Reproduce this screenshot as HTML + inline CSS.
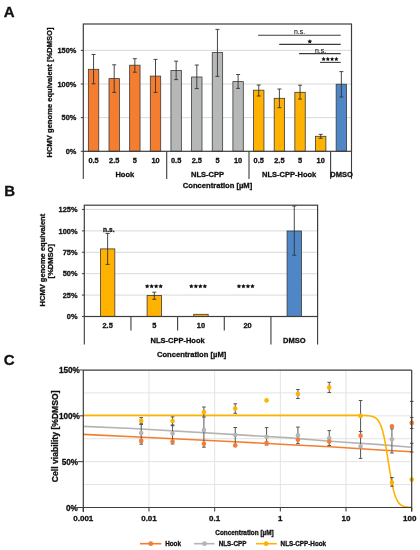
<!DOCTYPE html>
<html><head><meta charset="utf-8"><style>
html,body{margin:0;padding:0;background:#fff;}
svg{display:block;}
text{font-family:"Liberation Sans",sans-serif;font-weight:bold;stroke:#111111;stroke-width:0.3px;}
svg{will-change:transform;}
</style></head><body>
<svg width="420" height="550" viewBox="0 0 420 550">
<rect width="420" height="550" fill="#fff"/>
<text x="3.8" y="16.6" font-size="15" text-anchor="start" fill="#111111" >A</text>
<text x="4.2" y="196.2" font-size="15" text-anchor="start" fill="#111111" >B</text>
<text x="3.7" y="365.1" font-size="15" fill="#111111">C</text>
<line x1="83.3" y1="117.65" x2="351.5" y2="117.65" stroke="#d9d9d9" stroke-width="1"/>
<line x1="83.3" y1="84.0" x2="351.5" y2="84.0" stroke="#d9d9d9" stroke-width="1"/>
<line x1="83.3" y1="50.35000000000001" x2="351.5" y2="50.35000000000001" stroke="#d9d9d9" stroke-width="1"/>
<rect x="88.35" y="69.3" width="10.4" height="82.00" fill="#f47d30" stroke="#3a3a3a" stroke-width="0.8"/>
<rect x="109.00" y="78.6" width="10.4" height="72.70" fill="#f47d30" stroke="#3a3a3a" stroke-width="0.8"/>
<rect x="129.65" y="65.2" width="10.4" height="86.10" fill="#f47d30" stroke="#3a3a3a" stroke-width="0.8"/>
<rect x="150.30" y="76.1" width="10.4" height="75.20" fill="#f47d30" stroke="#3a3a3a" stroke-width="0.8"/>
<rect x="170.95" y="70.4" width="10.4" height="80.90" fill="#b6b8b7" stroke="#3a3a3a" stroke-width="0.8"/>
<rect x="191.60" y="77" width="10.4" height="74.30" fill="#b6b8b7" stroke="#3a3a3a" stroke-width="0.8"/>
<rect x="212.25" y="52.6" width="10.4" height="98.70" fill="#b6b8b7" stroke="#3a3a3a" stroke-width="0.8"/>
<rect x="232.90" y="81.6" width="10.4" height="69.70" fill="#b6b8b7" stroke="#3a3a3a" stroke-width="0.8"/>
<rect x="253.55" y="90.2" width="10.4" height="61.10" fill="#ffb300" stroke="#3a3a3a" stroke-width="0.8"/>
<rect x="274.20" y="98.3" width="10.4" height="53.00" fill="#ffb300" stroke="#3a3a3a" stroke-width="0.8"/>
<rect x="294.85" y="92.3" width="10.4" height="59.00" fill="#ffb300" stroke="#3a3a3a" stroke-width="0.8"/>
<rect x="315.50" y="136.3" width="10.4" height="15.00" fill="#ffb300" stroke="#3a3a3a" stroke-width="0.8"/>
<rect x="336.15" y="84.2" width="10.4" height="67.10" fill="#4f87c6" stroke="#3a3a3a" stroke-width="0.8"/>
<line x1="93.55" y1="54.5" x2="93.55" y2="83.8" stroke="#333333" stroke-width="0.9"/>
<line x1="91.55" y1="54.5" x2="95.55" y2="54.5" stroke="#333333" stroke-width="0.9"/>
<line x1="91.55" y1="83.8" x2="95.55" y2="83.8" stroke="#333333" stroke-width="0.9"/>
<line x1="114.19999999999999" y1="64.8" x2="114.19999999999999" y2="92.4" stroke="#333333" stroke-width="0.9"/>
<line x1="112.19999999999999" y1="64.8" x2="116.19999999999999" y2="64.8" stroke="#333333" stroke-width="0.9"/>
<line x1="112.19999999999999" y1="92.4" x2="116.19999999999999" y2="92.4" stroke="#333333" stroke-width="0.9"/>
<line x1="134.85" y1="58.7" x2="134.85" y2="72.2" stroke="#333333" stroke-width="0.9"/>
<line x1="132.85" y1="58.7" x2="136.85" y2="58.7" stroke="#333333" stroke-width="0.9"/>
<line x1="132.85" y1="72.2" x2="136.85" y2="72.2" stroke="#333333" stroke-width="0.9"/>
<line x1="155.5" y1="59.4" x2="155.5" y2="92.4" stroke="#333333" stroke-width="0.9"/>
<line x1="153.5" y1="59.4" x2="157.5" y2="59.4" stroke="#333333" stroke-width="0.9"/>
<line x1="153.5" y1="92.4" x2="157.5" y2="92.4" stroke="#333333" stroke-width="0.9"/>
<line x1="176.14999999999998" y1="61.2" x2="176.14999999999998" y2="79.6" stroke="#333333" stroke-width="0.9"/>
<line x1="174.14999999999998" y1="61.2" x2="178.14999999999998" y2="61.2" stroke="#333333" stroke-width="0.9"/>
<line x1="174.14999999999998" y1="79.6" x2="178.14999999999998" y2="79.6" stroke="#333333" stroke-width="0.9"/>
<line x1="196.8" y1="65" x2="196.8" y2="88.6" stroke="#333333" stroke-width="0.9"/>
<line x1="194.8" y1="65" x2="198.8" y2="65" stroke="#333333" stroke-width="0.9"/>
<line x1="194.8" y1="88.6" x2="198.8" y2="88.6" stroke="#333333" stroke-width="0.9"/>
<line x1="217.45" y1="29.4" x2="217.45" y2="76.4" stroke="#333333" stroke-width="0.9"/>
<line x1="215.45" y1="29.4" x2="219.45" y2="29.4" stroke="#333333" stroke-width="0.9"/>
<line x1="215.45" y1="76.4" x2="219.45" y2="76.4" stroke="#333333" stroke-width="0.9"/>
<line x1="238.09999999999997" y1="74.5" x2="238.09999999999997" y2="88.4" stroke="#333333" stroke-width="0.9"/>
<line x1="236.09999999999997" y1="74.5" x2="240.09999999999997" y2="74.5" stroke="#333333" stroke-width="0.9"/>
<line x1="236.09999999999997" y1="88.4" x2="240.09999999999997" y2="88.4" stroke="#333333" stroke-width="0.9"/>
<line x1="258.75" y1="85" x2="258.75" y2="96" stroke="#333333" stroke-width="0.9"/>
<line x1="256.75" y1="85" x2="260.75" y2="85" stroke="#333333" stroke-width="0.9"/>
<line x1="256.75" y1="96" x2="260.75" y2="96" stroke="#333333" stroke-width="0.9"/>
<line x1="279.4" y1="89" x2="279.4" y2="107.7" stroke="#333333" stroke-width="0.9"/>
<line x1="277.4" y1="89" x2="281.4" y2="89" stroke="#333333" stroke-width="0.9"/>
<line x1="277.4" y1="107.7" x2="281.4" y2="107.7" stroke="#333333" stroke-width="0.9"/>
<line x1="300.05" y1="85.2" x2="300.05" y2="99.1" stroke="#333333" stroke-width="0.9"/>
<line x1="298.05" y1="85.2" x2="302.05" y2="85.2" stroke="#333333" stroke-width="0.9"/>
<line x1="298.05" y1="99.1" x2="302.05" y2="99.1" stroke="#333333" stroke-width="0.9"/>
<line x1="320.7" y1="134.3" x2="320.7" y2="138.3" stroke="#333333" stroke-width="0.9"/>
<line x1="318.7" y1="134.3" x2="322.7" y2="134.3" stroke="#333333" stroke-width="0.9"/>
<line x1="318.7" y1="138.3" x2="322.7" y2="138.3" stroke="#333333" stroke-width="0.9"/>
<line x1="341.34999999999997" y1="71.6" x2="341.34999999999997" y2="97" stroke="#333333" stroke-width="0.9"/>
<line x1="339.34999999999997" y1="71.6" x2="343.34999999999997" y2="71.6" stroke="#333333" stroke-width="0.9"/>
<line x1="339.34999999999997" y1="97" x2="343.34999999999997" y2="97" stroke="#333333" stroke-width="0.9"/>
<rect x="83.3" y="24.0" width="268.2" height="127.30000000000001" fill="none" stroke="#3c3c3c" stroke-width="1.2"/>
<line x1="80.8" y1="151.3" x2="83.3" y2="151.3" stroke="#3c3c3c" stroke-width="1"/>
<line x1="80.8" y1="117.65" x2="83.3" y2="117.65" stroke="#3c3c3c" stroke-width="1"/>
<line x1="80.8" y1="84.0" x2="83.3" y2="84.0" stroke="#3c3c3c" stroke-width="1"/>
<line x1="80.8" y1="50.35000000000001" x2="83.3" y2="50.35000000000001" stroke="#3c3c3c" stroke-width="1"/>
<line x1="83.3" y1="151.3" x2="83.3" y2="178.9" stroke="#3c3c3c" stroke-width="1.1"/>
<line x1="166.7" y1="151.3" x2="166.7" y2="178.9" stroke="#3c3c3c" stroke-width="1.1"/>
<line x1="249.0" y1="151.3" x2="249.0" y2="178.9" stroke="#3c3c3c" stroke-width="1.1"/>
<line x1="330.6" y1="151.3" x2="330.6" y2="178.9" stroke="#3c3c3c" stroke-width="1.1"/>
<line x1="351.5" y1="151.3" x2="351.5" y2="178.9" stroke="#3c3c3c" stroke-width="1.1"/>
<text x="76.4" y="154.0" font-size="7.4" text-anchor="end" fill="#111111" >0%</text>
<text x="76.4" y="120.35000000000001" font-size="7.4" text-anchor="end" fill="#111111" >50%</text>
<text x="76.4" y="86.7" font-size="7.4" text-anchor="end" fill="#111111" >100%</text>
<text x="76.4" y="53.05000000000001" font-size="7.4" text-anchor="end" fill="#111111" >150%</text>
<text x="93.55" y="163.3" font-size="7.4" text-anchor="middle" fill="#111111" >0.5</text>
<text x="114.19999999999999" y="163.3" font-size="7.4" text-anchor="middle" fill="#111111" >2.5</text>
<text x="134.85" y="163.3" font-size="7.4" text-anchor="middle" fill="#111111" >5</text>
<text x="155.5" y="163.3" font-size="7.4" text-anchor="middle" fill="#111111" >10</text>
<text x="176.14999999999998" y="163.3" font-size="7.4" text-anchor="middle" fill="#111111" >0.5</text>
<text x="196.8" y="163.3" font-size="7.4" text-anchor="middle" fill="#111111" >2.5</text>
<text x="217.45" y="163.3" font-size="7.4" text-anchor="middle" fill="#111111" >5</text>
<text x="238.09999999999997" y="163.3" font-size="7.4" text-anchor="middle" fill="#111111" >10</text>
<text x="258.75" y="163.3" font-size="7.4" text-anchor="middle" fill="#111111" >0.5</text>
<text x="279.4" y="163.3" font-size="7.4" text-anchor="middle" fill="#111111" >2.5</text>
<text x="300.05" y="163.3" font-size="7.4" text-anchor="middle" fill="#111111" >5</text>
<text x="320.7" y="163.3" font-size="7.4" text-anchor="middle" fill="#111111" >10</text>
<text x="124.8" y="177.4" font-size="7.5" text-anchor="middle" fill="#111111" >Hook</text>
<text x="207.5" y="177.4" font-size="7.5" text-anchor="middle" fill="#111111" >NLS-CPP</text>
<text x="289.2" y="177.4" font-size="7.5" text-anchor="middle" fill="#111111" >NLS-CPP-Hook</text>
<text x="341.5" y="177.4" font-size="7.5" text-anchor="middle" fill="#111111" >DMSO</text>
<text x="217.5" y="188.0" font-size="7.6" text-anchor="middle" fill="#111111" >Concentration [µM]</text>
<text transform="translate(52.3,92.5) rotate(-90)" font-size="7.6" text-anchor="middle" fill="#111111">HCMV genome equivalent [%DMSO]</text>
<line x1="258.1" y1="35.3" x2="340.7" y2="35.3" stroke="#3c3c3c" stroke-width="1.1"/>
<text x="299.5" y="34.3" font-size="6.9" text-anchor="middle" fill="#111111" style="font-weight:normal;stroke-width:0.1px">n.s.</text>
<line x1="279.2" y1="44.4" x2="340.7" y2="44.4" stroke="#3c3c3c" stroke-width="1.1"/>
<line x1="299.1" y1="53.6" x2="340.7" y2="53.6" stroke="#3c3c3c" stroke-width="1.1"/>
<text x="320.5" y="52.7" font-size="6.9" text-anchor="middle" fill="#111111" style="font-weight:normal;stroke-width:0.1px">n.s.</text>
<line x1="320.0" y1="62.4" x2="340.7" y2="62.4" stroke="#3c3c3c" stroke-width="1.1"/>
<polygon points="309.80,39.15 310.52,40.61 312.13,40.84 310.97,41.98 311.24,43.58 309.80,42.83 308.36,43.58 308.63,41.98 307.47,40.84 309.08,40.61" fill="#111111"/>
<polygon points="323.60,56.85 324.26,58.19 325.74,58.40 324.67,59.45 324.92,60.92 323.60,60.23 322.28,60.92 322.53,59.45 321.46,58.40 322.94,58.19" fill="#111111"/>
<polygon points="327.85,56.85 328.51,58.19 329.99,58.40 328.92,59.45 329.17,60.92 327.85,60.23 326.53,60.92 326.78,59.45 325.71,58.40 327.19,58.19" fill="#111111"/>
<polygon points="332.10,56.85 332.76,58.19 334.24,58.40 333.17,59.45 333.42,60.92 332.10,60.23 330.78,60.92 331.03,59.45 329.96,58.40 331.44,58.19" fill="#111111"/>
<polygon points="336.35,56.85 337.01,58.19 338.49,58.40 337.42,59.45 337.67,60.92 336.35,60.23 335.03,60.92 335.28,59.45 334.21,58.40 335.69,58.19" fill="#111111"/>
<line x1="84.3" y1="295.09" x2="317.6" y2="295.09" stroke="#d9d9d9" stroke-width="1"/>
<line x1="84.3" y1="273.68" x2="317.6" y2="273.68" stroke="#d9d9d9" stroke-width="1"/>
<line x1="84.3" y1="252.26999999999998" x2="317.6" y2="252.26999999999998" stroke="#d9d9d9" stroke-width="1"/>
<line x1="84.3" y1="230.86" x2="317.6" y2="230.86" stroke="#d9d9d9" stroke-width="1"/>
<line x1="84.3" y1="209.45" x2="317.6" y2="209.45" stroke="#d9d9d9" stroke-width="1"/>
<rect x="100.43" y="248.9" width="14.4" height="67.60" fill="#ffb300" stroke="#3a3a3a" stroke-width="0.8"/>
<rect x="147.09" y="295.4" width="14.4" height="21.10" fill="#ffb300" stroke="#3a3a3a" stroke-width="0.8"/>
<rect x="193.75" y="314.3" width="14.4" height="2.20" fill="#ffb300" stroke="#3a3a3a" stroke-width="0.8"/>
<rect x="287.07" y="231.0" width="14.4" height="85.50" fill="#4f87c6" stroke="#3a3a3a" stroke-width="0.8"/>
<line x1="107.63" y1="233.5" x2="107.63" y2="264.4" stroke="#333333" stroke-width="0.9"/>
<line x1="105.63" y1="233.5" x2="109.63" y2="233.5" stroke="#333333" stroke-width="0.9"/>
<line x1="105.63" y1="264.4" x2="109.63" y2="264.4" stroke="#333333" stroke-width="0.9"/>
<line x1="154.29000000000002" y1="292.2" x2="154.29000000000002" y2="299.3" stroke="#333333" stroke-width="0.9"/>
<line x1="152.29000000000002" y1="292.2" x2="156.29000000000002" y2="292.2" stroke="#333333" stroke-width="0.9"/>
<line x1="152.29000000000002" y1="299.3" x2="156.29000000000002" y2="299.3" stroke="#333333" stroke-width="0.9"/>
<line x1="294.27000000000004" y1="206.0" x2="294.27000000000004" y2="255.2" stroke="#333333" stroke-width="0.9"/>
<line x1="292.27000000000004" y1="206.0" x2="296.27000000000004" y2="206.0" stroke="#333333" stroke-width="0.9"/>
<line x1="292.27000000000004" y1="255.2" x2="296.27000000000004" y2="255.2" stroke="#333333" stroke-width="0.9"/>
<rect x="84.3" y="205.2" width="233.3" height="111.30000000000001" fill="none" stroke="#3c3c3c" stroke-width="1.2"/>
<line x1="81.9" y1="316.5" x2="84.3" y2="316.5" stroke="#3c3c3c" stroke-width="1"/>
<text x="77.5" y="319.2" font-size="7.4" text-anchor="end" fill="#111111" >0%</text>
<line x1="81.9" y1="295.09" x2="84.3" y2="295.09" stroke="#3c3c3c" stroke-width="1"/>
<text x="77.5" y="297.78999999999996" font-size="7.4" text-anchor="end" fill="#111111" >25%</text>
<line x1="81.9" y1="273.68" x2="84.3" y2="273.68" stroke="#3c3c3c" stroke-width="1"/>
<text x="77.5" y="276.38" font-size="7.4" text-anchor="end" fill="#111111" >50%</text>
<line x1="81.9" y1="252.26999999999998" x2="84.3" y2="252.26999999999998" stroke="#3c3c3c" stroke-width="1"/>
<text x="77.5" y="254.96999999999997" font-size="7.4" text-anchor="end" fill="#111111" >75%</text>
<line x1="81.9" y1="230.86" x2="84.3" y2="230.86" stroke="#3c3c3c" stroke-width="1"/>
<text x="77.5" y="233.56" font-size="7.4" text-anchor="end" fill="#111111" >100%</text>
<line x1="81.9" y1="209.45" x2="84.3" y2="209.45" stroke="#3c3c3c" stroke-width="1"/>
<text x="77.5" y="212.14999999999998" font-size="7.4" text-anchor="end" fill="#111111" >125%</text>
<line x1="84.3" y1="316.5" x2="84.3" y2="344.4" stroke="#3c3c3c" stroke-width="1.1"/>
<line x1="130.96" y1="316.5" x2="130.96" y2="330.5" stroke="#3c3c3c" stroke-width="1.1"/>
<line x1="177.62" y1="316.5" x2="177.62" y2="330.5" stroke="#3c3c3c" stroke-width="1.1"/>
<line x1="224.28000000000003" y1="316.5" x2="224.28000000000003" y2="330.5" stroke="#3c3c3c" stroke-width="1.1"/>
<line x1="270.94" y1="316.5" x2="270.94" y2="344.4" stroke="#3c3c3c" stroke-width="1.1"/>
<line x1="317.6" y1="316.5" x2="317.6" y2="344.4" stroke="#3c3c3c" stroke-width="1.1"/>
<text x="107.63" y="327.9" font-size="7.4" text-anchor="middle" fill="#111111" >2.5</text>
<text x="154.29000000000002" y="327.9" font-size="7.4" text-anchor="middle" fill="#111111" >5</text>
<text x="200.95" y="327.9" font-size="7.4" text-anchor="middle" fill="#111111" >10</text>
<text x="247.61" y="327.9" font-size="7.4" text-anchor="middle" fill="#111111" >20</text>
<text x="177.6" y="342.9" font-size="7.5" text-anchor="middle" fill="#111111" >NLS-CPP-Hook</text>
<text x="294.3" y="342.9" font-size="7.5" text-anchor="middle" fill="#111111" >DMSO</text>
<text x="191.6" y="357.2" font-size="7.6" text-anchor="middle" fill="#111111" >Concentration [µM]</text>
<text x="108.8" y="231.6" font-size="6.6" text-anchor="middle" fill="#111111" >n.s.</text>
<polygon points="147.15,283.90 147.86,285.33 149.43,285.56 148.29,286.67 148.56,288.24 147.15,287.50 145.74,288.24 146.01,286.67 144.87,285.56 146.44,285.33" fill="#111111"/>
<polygon points="151.65,283.90 152.36,285.33 153.93,285.56 152.79,286.67 153.06,288.24 151.65,287.50 150.24,288.24 150.51,286.67 149.37,285.56 150.94,285.33" fill="#111111"/>
<polygon points="156.15,283.90 156.86,285.33 158.43,285.56 157.29,286.67 157.56,288.24 156.15,287.50 154.74,288.24 155.01,286.67 153.87,285.56 155.44,285.33" fill="#111111"/>
<polygon points="160.65,283.90 161.36,285.33 162.93,285.56 161.79,286.67 162.06,288.24 160.65,287.50 159.24,288.24 159.51,286.67 158.37,285.56 159.94,285.33" fill="#111111"/>
<polygon points="191.35,283.90 192.06,285.33 193.63,285.56 192.49,286.67 192.76,288.24 191.35,287.50 189.94,288.24 190.21,286.67 189.07,285.56 190.64,285.33" fill="#111111"/>
<polygon points="195.85,283.90 196.56,285.33 198.13,285.56 196.99,286.67 197.26,288.24 195.85,287.50 194.44,288.24 194.71,286.67 193.57,285.56 195.14,285.33" fill="#111111"/>
<polygon points="200.35,283.90 201.06,285.33 202.63,285.56 201.49,286.67 201.76,288.24 200.35,287.50 198.94,288.24 199.21,286.67 198.07,285.56 199.64,285.33" fill="#111111"/>
<polygon points="204.85,283.90 205.56,285.33 207.13,285.56 205.99,286.67 206.26,288.24 204.85,287.50 203.44,288.24 203.71,286.67 202.57,285.56 204.14,285.33" fill="#111111"/>
<polygon points="238.95,283.90 239.66,285.33 241.23,285.56 240.09,286.67 240.36,288.24 238.95,287.50 237.54,288.24 237.81,286.67 236.67,285.56 238.24,285.33" fill="#111111"/>
<polygon points="243.45,283.90 244.16,285.33 245.73,285.56 244.59,286.67 244.86,288.24 243.45,287.50 242.04,288.24 242.31,286.67 241.17,285.56 242.74,285.33" fill="#111111"/>
<polygon points="247.95,283.90 248.66,285.33 250.23,285.56 249.09,286.67 249.36,288.24 247.95,287.50 246.54,288.24 246.81,286.67 245.67,285.56 247.24,285.33" fill="#111111"/>
<polygon points="252.45,283.90 253.16,285.33 254.73,285.56 253.59,286.67 253.86,288.24 252.45,287.50 251.04,288.24 251.31,286.67 250.17,285.56 251.74,285.33" fill="#111111"/>
<text transform="translate(45.2,260.1) rotate(-90)" font-size="7.55" text-anchor="middle" fill="#111111">HCMV genome equivalent</text>
<text transform="translate(53.4,261.2) rotate(-90)" font-size="7.55" text-anchor="middle" fill="#111111">[%DMSO]</text>
<line x1="83.3" y1="484.5825" x2="411.7" y2="484.5825" stroke="#e3e3e3" stroke-width="1"/>
<line x1="83.3" y1="461.665" x2="411.7" y2="461.665" stroke="#e3e3e3" stroke-width="1"/>
<line x1="83.3" y1="438.7475" x2="411.7" y2="438.7475" stroke="#e3e3e3" stroke-width="1"/>
<line x1="83.3" y1="415.83" x2="411.7" y2="415.83" stroke="#e3e3e3" stroke-width="1"/>
<line x1="83.3" y1="392.9125" x2="411.7" y2="392.9125" stroke="#e3e3e3" stroke-width="1"/>
<line x1="148.98000000000002" y1="370.1" x2="148.98000000000002" y2="507.5" stroke="#e3e3e3" stroke-width="1"/>
<line x1="214.66000000000003" y1="370.1" x2="214.66000000000003" y2="507.5" stroke="#e3e3e3" stroke-width="1"/>
<line x1="280.34000000000003" y1="370.1" x2="280.34000000000003" y2="507.5" stroke="#e3e3e3" stroke-width="1"/>
<line x1="346.02000000000004" y1="370.1" x2="346.02000000000004" y2="507.5" stroke="#e3e3e3" stroke-width="1"/>
<polyline points="83.30,426.40 133.00,428.50 240.00,434.90 290.00,437.90 330.00,441.30 380.00,444.60 411.70,447.30" fill="none" stroke="#b4b4b4" stroke-width="1.6" stroke-linejoin="round"/>
<polyline points="83.30,434.40 133.00,436.80 240.00,442.00 290.00,444.80 330.00,446.80 380.00,450.00 411.70,451.80" fill="none" stroke="#f47d30" stroke-width="1.6" stroke-linejoin="round"/>
<polyline points="83.30,415.40 84.12,415.40 84.94,415.40 85.76,415.40 86.58,415.40 87.41,415.40 88.23,415.40 89.05,415.40 89.87,415.40 90.69,415.40 91.51,415.40 92.33,415.40 93.15,415.40 93.97,415.40 94.79,415.40 95.61,415.40 96.44,415.40 97.26,415.40 98.08,415.40 98.90,415.40 99.72,415.40 100.54,415.40 101.36,415.40 102.18,415.40 103.00,415.40 103.82,415.40 104.65,415.40 105.47,415.40 106.29,415.40 107.11,415.40 107.93,415.40 108.75,415.40 109.57,415.40 110.39,415.40 111.21,415.40 112.03,415.40 112.86,415.40 113.68,415.40 114.50,415.40 115.32,415.40 116.14,415.40 116.96,415.40 117.78,415.40 118.60,415.40 119.42,415.40 120.24,415.40 121.07,415.40 121.89,415.40 122.71,415.40 123.53,415.40 124.35,415.40 125.17,415.40 125.99,415.40 126.81,415.40 127.63,415.40 128.45,415.40 129.28,415.40 130.10,415.40 130.92,415.40 131.74,415.40 132.56,415.40 133.38,415.40 134.20,415.40 135.02,415.40 135.84,415.40 136.66,415.40 137.49,415.40 138.31,415.40 139.13,415.40 139.95,415.40 140.77,415.40 141.59,415.40 142.41,415.40 143.23,415.40 144.05,415.40 144.88,415.40 145.70,415.40 146.52,415.40 147.34,415.40 148.16,415.40 148.98,415.40 149.80,415.40 150.62,415.40 151.44,415.40 152.26,415.40 153.08,415.40 153.91,415.40 154.73,415.40 155.55,415.40 156.37,415.40 157.19,415.40 158.01,415.40 158.83,415.40 159.65,415.40 160.47,415.40 161.29,415.40 162.12,415.40 162.94,415.40 163.76,415.40 164.58,415.40 165.40,415.40 166.22,415.40 167.04,415.40 167.86,415.40 168.68,415.40 169.50,415.40 170.33,415.40 171.15,415.40 171.97,415.40 172.79,415.40 173.61,415.40 174.43,415.40 175.25,415.40 176.07,415.40 176.89,415.40 177.72,415.40 178.54,415.40 179.36,415.40 180.18,415.40 181.00,415.40 181.82,415.40 182.64,415.40 183.46,415.40 184.28,415.40 185.10,415.40 185.93,415.40 186.75,415.40 187.57,415.40 188.39,415.40 189.21,415.40 190.03,415.40 190.85,415.40 191.67,415.40 192.49,415.40 193.31,415.40 194.13,415.40 194.96,415.40 195.78,415.40 196.60,415.40 197.42,415.40 198.24,415.40 199.06,415.40 199.88,415.40 200.70,415.40 201.52,415.40 202.34,415.40 203.17,415.40 203.99,415.40 204.81,415.40 205.63,415.40 206.45,415.40 207.27,415.40 208.09,415.40 208.91,415.40 209.73,415.40 210.56,415.40 211.38,415.40 212.20,415.40 213.02,415.40 213.84,415.40 214.66,415.40 215.48,415.40 216.30,415.40 217.12,415.40 217.94,415.40 218.76,415.40 219.59,415.40 220.41,415.40 221.23,415.40 222.05,415.40 222.87,415.40 223.69,415.40 224.51,415.40 225.33,415.40 226.15,415.40 226.97,415.40 227.80,415.40 228.62,415.40 229.44,415.40 230.26,415.40 231.08,415.40 231.90,415.40 232.72,415.40 233.54,415.40 234.36,415.40 235.19,415.40 236.01,415.40 236.83,415.40 237.65,415.40 238.47,415.40 239.29,415.40 240.11,415.40 240.93,415.40 241.75,415.40 242.57,415.40 243.39,415.40 244.22,415.40 245.04,415.40 245.86,415.40 246.68,415.40 247.50,415.40 248.32,415.40 249.14,415.40 249.96,415.40 250.78,415.40 251.61,415.40 252.43,415.40 253.25,415.40 254.07,415.40 254.89,415.40 255.71,415.40 256.53,415.40 257.35,415.40 258.17,415.40 258.99,415.40 259.81,415.40 260.64,415.40 261.46,415.40 262.28,415.40 263.10,415.40 263.92,415.40 264.74,415.40 265.56,415.40 266.38,415.40 267.20,415.40 268.02,415.40 268.85,415.40 269.67,415.40 270.49,415.40 271.31,415.40 272.13,415.40 272.95,415.40 273.77,415.40 274.59,415.40 275.41,415.40 276.24,415.40 277.06,415.40 277.88,415.40 278.70,415.40 279.52,415.40 280.34,415.40 281.16,415.40 281.98,415.40 282.80,415.40 283.62,415.40 284.44,415.40 285.27,415.40 286.09,415.40 286.91,415.40 287.73,415.40 288.55,415.40 289.37,415.40 290.19,415.40 291.01,415.40 291.83,415.40 292.65,415.40 293.48,415.40 294.30,415.40 295.12,415.40 295.94,415.40 296.76,415.40 297.58,415.40 298.40,415.40 299.22,415.40 300.04,415.40 300.87,415.40 301.69,415.40 302.51,415.40 303.33,415.40 304.15,415.40 304.97,415.40 305.79,415.40 306.61,415.40 307.43,415.40 308.25,415.40 309.07,415.40 309.90,415.40 310.72,415.40 311.54,415.40 312.36,415.40 313.18,415.40 314.00,415.40 314.82,415.40 315.64,415.40 316.46,415.40 317.29,415.40 318.11,415.40 318.93,415.40 319.75,415.40 320.57,415.40 321.39,415.40 322.21,415.40 323.03,415.40 323.85,415.40 324.67,415.40 325.50,415.40 326.32,415.40 327.14,415.40 327.96,415.40 328.78,415.40 329.60,415.40 330.42,415.40 331.24,415.40 332.06,415.40 332.88,415.40 333.70,415.40 334.53,415.40 335.35,415.40 336.17,415.40 336.99,415.40 337.81,415.40 338.63,415.40 339.45,415.40 340.27,415.40 341.09,415.40 341.92,415.40 342.74,415.40 343.56,415.40 344.38,415.40 345.20,415.40 346.02,415.40 346.84,415.40 347.66,415.40 348.48,415.40 349.30,415.40 350.12,415.40 350.95,415.40 351.77,415.40 352.59,415.40 353.41,415.41 354.23,415.41 355.05,415.41 355.87,415.41 356.69,415.41 357.51,415.42 358.33,415.42 359.16,415.43 359.98,415.43 360.80,415.44 361.62,415.45 362.44,415.47 363.26,415.48 364.08,415.50 364.90,415.53 365.72,415.56 366.54,415.61 367.37,415.66 368.19,415.73 369.01,415.81 369.83,415.92 370.65,416.05 371.47,416.22 372.29,416.43 373.11,416.69 373.93,417.02 374.75,417.43 375.58,417.94 376.40,418.57 377.22,419.36 378.04,420.33 378.86,421.52 379.68,422.97 380.50,424.74 381.32,426.85 382.14,429.37 382.96,432.32 383.79,435.74 384.61,439.62 385.43,443.94 386.25,448.67 387.07,453.70 387.89,458.93 388.71,464.22 389.53,469.45 390.35,474.47 391.17,479.17 392.00,483.48 392.82,487.34 393.64,490.73 394.46,493.66 395.28,496.16 396.10,498.25 396.92,500.00 397.74,501.44 398.56,502.62 399.38,503.58 400.21,504.36 401.03,504.99 401.85,505.49 402.67,505.90 403.49,506.22 404.31,506.48 405.13,506.69 405.95,506.86 406.77,506.99 407.59,507.09 408.42,507.18 409.24,507.24 410.06,507.30 410.88,507.34 411.70,507.37" fill="none" stroke="#ffb300" stroke-width="1.6" stroke-linejoin="round"/>
<line x1="141.22975780489028" y1="417.6" x2="141.22975780489028" y2="444.2" stroke="#555555" stroke-width="1.0"/>
<line x1="139.42975780489027" y1="417.6" x2="143.0297578048903" y2="417.6" stroke="#555555" stroke-width="1.0"/>
<line x1="139.42975780489027" y1="444.2" x2="143.0297578048903" y2="444.2" stroke="#555555" stroke-width="1.0"/>
<line x1="172.56708181487772" y1="416.9" x2="172.56708181487772" y2="444.0" stroke="#555555" stroke-width="1.0"/>
<line x1="170.7670818148777" y1="416.9" x2="174.36708181487774" y2="416.9" stroke="#555555" stroke-width="1.0"/>
<line x1="170.7670818148777" y1="444.0" x2="174.36708181487774" y2="444.0" stroke="#555555" stroke-width="1.0"/>
<line x1="203.90440582486514" y1="407.0" x2="203.90440582486514" y2="447.2" stroke="#555555" stroke-width="1.0"/>
<line x1="202.10440582486513" y1="407.0" x2="205.70440582486515" y2="407.0" stroke="#555555" stroke-width="1.0"/>
<line x1="202.10440582486513" y1="447.2" x2="205.70440582486515" y2="447.2" stroke="#555555" stroke-width="1.0"/>
<line x1="360.5910258748023" y1="400.5" x2="360.5910258748023" y2="458.4" stroke="#555555" stroke-width="1.0"/>
<line x1="358.7910258748023" y1="400.5" x2="362.3910258748023" y2="400.5" stroke="#555555" stroke-width="1.0"/>
<line x1="358.7910258748023" y1="458.4" x2="362.3910258748023" y2="458.4" stroke="#555555" stroke-width="1.0"/>
<line x1="235.2417298348526" y1="403.8" x2="235.2417298348526" y2="413.3" stroke="#555555" stroke-width="1.0"/>
<line x1="233.4417298348526" y1="403.8" x2="237.04172983485262" y2="403.8" stroke="#555555" stroke-width="1.0"/>
<line x1="233.4417298348526" y1="413.3" x2="237.04172983485262" y2="413.3" stroke="#555555" stroke-width="1.0"/>
<line x1="235.2417298348526" y1="427.5" x2="235.2417298348526" y2="446.0" stroke="#555555" stroke-width="1.0"/>
<line x1="233.4417298348526" y1="427.5" x2="237.04172983485262" y2="427.5" stroke="#555555" stroke-width="1.0"/>
<line x1="233.4417298348526" y1="446.0" x2="237.04172983485262" y2="446.0" stroke="#555555" stroke-width="1.0"/>
<line x1="266.57905384484" y1="427.6" x2="266.57905384484" y2="445.0" stroke="#555555" stroke-width="1.0"/>
<line x1="264.77905384484" y1="427.6" x2="268.37905384484003" y2="427.6" stroke="#555555" stroke-width="1.0"/>
<line x1="264.77905384484" y1="445.0" x2="268.37905384484003" y2="445.0" stroke="#555555" stroke-width="1.0"/>
<line x1="297.91637785482743" y1="389.5" x2="297.91637785482743" y2="398.5" stroke="#555555" stroke-width="1.0"/>
<line x1="296.1163778548274" y1="389.5" x2="299.71637785482744" y2="389.5" stroke="#555555" stroke-width="1.0"/>
<line x1="296.1163778548274" y1="398.5" x2="299.71637785482744" y2="398.5" stroke="#555555" stroke-width="1.0"/>
<line x1="297.91637785482743" y1="427.1" x2="297.91637785482743" y2="443.6" stroke="#555555" stroke-width="1.0"/>
<line x1="296.1163778548274" y1="427.1" x2="299.71637785482744" y2="427.1" stroke="#555555" stroke-width="1.0"/>
<line x1="296.1163778548274" y1="443.6" x2="299.71637785482744" y2="443.6" stroke="#555555" stroke-width="1.0"/>
<line x1="329.2537018648149" y1="382.3" x2="329.2537018648149" y2="392.5" stroke="#555555" stroke-width="1.0"/>
<line x1="327.4537018648149" y1="382.3" x2="331.0537018648149" y2="382.3" stroke="#555555" stroke-width="1.0"/>
<line x1="327.4537018648149" y1="392.5" x2="331.0537018648149" y2="392.5" stroke="#555555" stroke-width="1.0"/>
<line x1="329.2537018648149" y1="430.6" x2="329.2537018648149" y2="445.5" stroke="#555555" stroke-width="1.0"/>
<line x1="327.4537018648149" y1="430.6" x2="331.0537018648149" y2="430.6" stroke="#555555" stroke-width="1.0"/>
<line x1="327.4537018648149" y1="445.5" x2="331.0537018648149" y2="445.5" stroke="#555555" stroke-width="1.0"/>
<line x1="391.9283498847898" y1="428.8" x2="391.9283498847898" y2="453.0" stroke="#555555" stroke-width="1.0"/>
<line x1="390.12834988478977" y1="428.8" x2="393.7283498847898" y2="428.8" stroke="#555555" stroke-width="1.0"/>
<line x1="390.12834988478977" y1="453.0" x2="393.7283498847898" y2="453.0" stroke="#555555" stroke-width="1.0"/>
<line x1="391.9283498847898" y1="477.5" x2="391.9283498847898" y2="486.2" stroke="#555555" stroke-width="1.0"/>
<line x1="390.12834988478977" y1="477.5" x2="393.7283498847898" y2="477.5" stroke="#555555" stroke-width="1.0"/>
<line x1="390.12834988478977" y1="486.2" x2="393.7283498847898" y2="486.2" stroke="#555555" stroke-width="1.0"/>
<line x1="411.70000000000005" y1="417.4" x2="411.70000000000005" y2="428.5" stroke="#555555" stroke-width="1.0"/>
<line x1="409.90000000000003" y1="417.4" x2="413.50000000000006" y2="417.4" stroke="#555555" stroke-width="1.0"/>
<line x1="409.90000000000003" y1="428.5" x2="413.50000000000006" y2="428.5" stroke="#555555" stroke-width="1.0"/>
<line x1="411.70000000000005" y1="443.3" x2="411.70000000000005" y2="452.0" stroke="#555555" stroke-width="1.0"/>
<line x1="409.90000000000003" y1="443.3" x2="413.50000000000006" y2="443.3" stroke="#555555" stroke-width="1.0"/>
<line x1="409.90000000000003" y1="452.0" x2="413.50000000000006" y2="452.0" stroke="#555555" stroke-width="1.0"/>
<line x1="409.90000000000003" y1="401.4" x2="413.50000000000006" y2="401.4" stroke="#555555" stroke-width="1.1"/>
<line x1="139.42975780489027" y1="424.5" x2="143.0297578048903" y2="424.5" stroke="#555555" stroke-width="1.1"/>
<line x1="139.42975780489027" y1="423.8" x2="143.0297578048903" y2="423.8" stroke="#555555" stroke-width="1.1"/>
<line x1="170.7670818148777" y1="425.7" x2="174.36708181487774" y2="425.7" stroke="#555555" stroke-width="1.1"/>
<line x1="170.7670818148777" y1="425.0" x2="174.36708181487774" y2="425.0" stroke="#555555" stroke-width="1.1"/>
<line x1="202.10440582486513" y1="417.0" x2="205.70440582486515" y2="417.0" stroke="#555555" stroke-width="1.1"/>
<line x1="358.7910258748023" y1="431.5" x2="362.3910258748023" y2="431.5" stroke="#555555" stroke-width="1.1"/>
<circle cx="141.23" cy="433.1" r="2.3" fill="#b4b4b4"/>
<circle cx="172.57" cy="433.5" r="2.3" fill="#b4b4b4"/>
<circle cx="203.90" cy="430.0" r="2.3" fill="#b4b4b4"/>
<circle cx="235.24" cy="435.0" r="2.3" fill="#b4b4b4"/>
<circle cx="266.58" cy="436.7" r="2.3" fill="#b4b4b4"/>
<circle cx="297.92" cy="435.4" r="2.3" fill="#b4b4b4"/>
<circle cx="329.25" cy="438.3" r="2.3" fill="#b4b4b4"/>
<circle cx="360.59" cy="446.4" r="2.3" fill="#b4b4b4"/>
<circle cx="391.93" cy="439.3" r="2.3" fill="#b4b4b4"/>
<circle cx="141.23" cy="440.9" r="2.3" fill="#f47d30"/>
<circle cx="172.57" cy="441.5" r="2.3" fill="#f47d30"/>
<circle cx="203.90" cy="443.8" r="2.3" fill="#f47d30"/>
<circle cx="235.24" cy="445.4" r="2.3" fill="#f47d30"/>
<circle cx="266.58" cy="442.9" r="2.3" fill="#f47d30"/>
<circle cx="297.92" cy="439.8" r="2.3" fill="#f47d30"/>
<circle cx="329.25" cy="441.6" r="2.3" fill="#f47d30"/>
<circle cx="360.59" cy="435.8" r="2.3" fill="#f47d30"/>
<circle cx="391.93" cy="426.2" r="2.3" fill="#f47d30"/>
<circle cx="411.70" cy="422.9" r="2.3" fill="#f47d30"/>
<circle cx="141.23" cy="420.9" r="2.3" fill="#ffb300"/>
<circle cx="172.57" cy="421.0" r="2.3" fill="#ffb300"/>
<circle cx="203.90" cy="412.0" r="2.3" fill="#ffb300"/>
<circle cx="235.24" cy="408.5" r="2.3" fill="#ffb300"/>
<circle cx="266.58" cy="400.4" r="2.3" fill="#ffb300"/>
<circle cx="297.92" cy="394.0" r="2.3" fill="#ffb300"/>
<circle cx="329.25" cy="387.4" r="2.3" fill="#ffb300"/>
<circle cx="360.59" cy="415.9" r="2.3" fill="#ffb300"/>
<circle cx="391.93" cy="482.5" r="2.3" fill="#ffb300"/>
<circle cx="411.70" cy="479.6" r="2.3" fill="#ffb300"/>
<line x1="83.3" y1="370.1" x2="411.7" y2="370.1" stroke="#3c3c3c" stroke-width="1.2"/>
<line x1="411.7" y1="370.1" x2="411.7" y2="511.5" stroke="#3c3c3c" stroke-width="1.2"/>
<line x1="83.3" y1="370.1" x2="83.3" y2="511.9" stroke="#3c3c3c" stroke-width="1.2"/>
<line x1="77.5" y1="507.5" x2="411.7" y2="507.5" stroke="#3c3c3c" stroke-width="1.2"/>
<line x1="77.6" y1="507.5" x2="83.3" y2="507.5" stroke="#3c3c3c" stroke-width="1"/>
<text x="77.89999999999999" y="510.5" font-size="8.2" text-anchor="end" fill="#111111" >0%</text>
<line x1="77.8" y1="461.665" x2="83.3" y2="461.665" stroke="#3c3c3c" stroke-width="1"/>
<text x="78.1" y="464.665" font-size="8.2" text-anchor="end" fill="#111111" >50%</text>
<line x1="79.6" y1="415.83" x2="83.3" y2="415.83" stroke="#3c3c3c" stroke-width="1"/>
<text x="79.89999999999999" y="418.83" font-size="8.2" text-anchor="end" fill="#111111" >100%</text>
<line x1="79.6" y1="369.995" x2="83.3" y2="369.995" stroke="#3c3c3c" stroke-width="1"/>
<text x="79.89999999999999" y="372.995" font-size="8.2" text-anchor="end" fill="#111111" >150%</text>
<line x1="83.3" y1="507.5" x2="83.3" y2="511.5" stroke="#3c3c3c" stroke-width="1"/>
<text x="83.3" y="520.9" font-size="8.0" text-anchor="middle" fill="#111111" >0.001</text>
<line x1="148.98000000000002" y1="507.5" x2="148.98000000000002" y2="511.5" stroke="#3c3c3c" stroke-width="1"/>
<text x="148.98000000000002" y="520.9" font-size="8.0" text-anchor="middle" fill="#111111" >0.01</text>
<line x1="214.66000000000003" y1="507.5" x2="214.66000000000003" y2="511.5" stroke="#3c3c3c" stroke-width="1"/>
<text x="214.66000000000003" y="520.9" font-size="8.0" text-anchor="middle" fill="#111111" >0.1</text>
<line x1="280.34000000000003" y1="507.5" x2="280.34000000000003" y2="511.5" stroke="#3c3c3c" stroke-width="1"/>
<text x="280.34000000000003" y="520.9" font-size="8.0" text-anchor="middle" fill="#111111" >1</text>
<line x1="346.02000000000004" y1="507.5" x2="346.02000000000004" y2="511.5" stroke="#3c3c3c" stroke-width="1"/>
<text x="346.02000000000004" y="520.9" font-size="8.0" text-anchor="middle" fill="#111111" >10</text>
<line x1="411.70000000000005" y1="507.5" x2="411.70000000000005" y2="511.5" stroke="#3c3c3c" stroke-width="1"/>
<text x="409.8" y="520.9" font-size="8.0" text-anchor="middle" fill="#111111" >100</text>
<text transform="translate(58.2,436.3) rotate(-90)" font-size="8.6" text-anchor="middle" fill="#111111">Cell viability [%DMSO]</text>
<text x="244.5" y="534.8" font-size="6.4" text-anchor="middle" fill="#111111" >Concentration [µM]</text>
<line x1="140" y1="543.7" x2="161.4" y2="543.7" stroke="#f47d30" stroke-width="1.6"/>
<circle cx="150.70" cy="543.7" r="2.4" fill="#f47d30"/>
<text x="165.2" y="546.3" font-size="6.3" text-anchor="start" fill="#111111" >Hook</text>
<line x1="194" y1="543.7" x2="214.5" y2="543.7" stroke="#b4b4b4" stroke-width="1.6"/>
<circle cx="204.50" cy="543.7" r="2.4" fill="#b4b4b4"/>
<text x="218.7" y="546.3" font-size="6.3" text-anchor="start" fill="#111111" >NLS-CPP</text>
<line x1="256" y1="543.7" x2="276.8" y2="543.7" stroke="#ffb300" stroke-width="1.6"/>
<circle cx="266.10" cy="543.7" r="2.4" fill="#ffb300"/>
<text x="280.6" y="546.3" font-size="6.3" text-anchor="start" fill="#111111" >NLS-CPP-Hook</text>
</svg>
</body></html>
